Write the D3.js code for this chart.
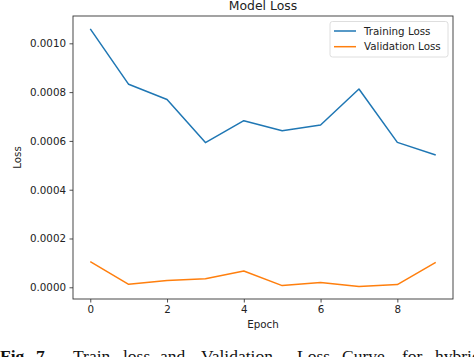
<!DOCTYPE html>
<html><head><meta charset="utf-8">
<script src="https://cdn.jsdelivr.net/npm/d3@7"></script>
<style>body{margin:0;background:#fff;}svg{display:block;}</style>
</head><body>
<svg id="c" width="474" height="357"></svg>
<script>
const epochs = [0,1,2,3,4,5,6,7,8,9];
const trainingLoss = [0.001059,0.000832,0.000770,0.000593,0.000683,0.000642,0.000665,0.000813,0.000594,0.000542];
const validationLoss = [0.000105,0.000012,0.000028,0.000035,0.000067,0.000007,0.000020,0.000003,0.000011,0.000102];
const xTicks = [0,2,4,6,8];
const yTicks = [0,0.0002,0.0004,0.0006,0.0008,0.0010];
const seriesNames = ["Training Loss","Validation Loss"];
const captionWords = ["Fig.","7.","Train","loss","and","Validation","Loss","Curve","for","hybrid"];
const colors = ["#1f77b4","#ff7f0e"];

const svg = d3.select("#c");
const L=73, R=453, T=16, B=299;
const x = d3.scaleLinear().domain([-0.45,9.45]).range([L,R]);
const y = d3.scaleLinear().domain([-0.000048,0.001112]).range([B,T]);
const font = "DejaVu Sans";

const line = d3.line().x((d,i)=>x(epochs[i])).y(d=>y(d));
[trainingLoss, validationLoss].forEach((s,k)=>{
  svg.append("path").attr("d",line(s)).attr("fill","none")
    .attr("stroke",colors[k]).attr("stroke-width",1.5).attr("stroke-linejoin","round");
});

// axes
const xa = d3.axisBottom(x).tickValues(xTicks).tickFormat(d3.format("d")).tickSize(3.5).tickPadding(3.5);
const ya = d3.axisLeft(y).tickValues(yTicks).tickFormat(d3.format(".4f")).tickSize(3.5).tickPadding(3.5);
const gx = svg.append("g").attr("transform",`translate(0,${B})`).call(xa);
const gy = svg.append("g").attr("transform",`translate(${L},0)`).call(ya);
[gx,gy].forEach(g=>{
  g.select(".domain").remove();
  g.selectAll("line").attr("stroke","#222").attr("stroke-width",0.8);
  g.selectAll("text").attr("font-family",font).attr("font-size",10.3).attr("fill","#222");
});
svg.append("rect").attr("x",L).attr("y",T).attr("width",R-L).attr("height",B-T)
  .attr("fill","none").attr("stroke","#333").attr("stroke-width",0.9);

// titles
svg.append("text").attr("x",(L+R)/2).attr("y",10).attr("text-anchor","middle")
  .attr("font-family",font).attr("font-size",12.4).attr("fill","#222").text("Model Loss");
svg.append("text").attr("x",(L+R)/2).attr("y",328).attr("text-anchor","middle")
  .attr("font-family",font).attr("font-size",10.3).attr("fill","#222").text("Epoch");
svg.append("text").attr("transform",`translate(21,${(T+B)/2}) rotate(-90)`).attr("text-anchor","middle")
  .attr("font-family",font).attr("font-size",10.3).attr("fill","#222").text("Loss");

// legend
const lg = svg.append("g");
lg.append("rect").attr("x",330).attr("y",21.5).attr("width",118).attr("height",35.5).attr("rx",2.5)
  .attr("fill","#fff").attr("fill-opacity",0.8).attr("stroke","#d6d6d6").attr("stroke-width",0.8);
seriesNames.forEach((n,k)=>{
  const yy = 31 + k*15.7;
  lg.append("line").attr("x1",334).attr("x2",356).attr("y1",yy).attr("y2",yy)
    .attr("stroke",colors[k]).attr("stroke-width",1.5);
  lg.append("text").attr("x",364).attr("y",yy+3.7).attr("font-family",font).attr("font-size",10.3)
    .attr("fill","#222").text(n);
});

// caption (justified, cut off at the bottom edge)
const capX = [0,36,73,123,160,201,297,342,402,435];
const cap = svg.append("text").attr("y",362).attr("font-family","Liberation Serif")
  .attr("font-size",17.5).attr("fill","#111");
captionWords.forEach((w,i)=>{
  cap.append("tspan").attr("x",capX[i]).attr("font-weight",i<2?"bold":"normal").text(w);
});
</script>
</body></html>
